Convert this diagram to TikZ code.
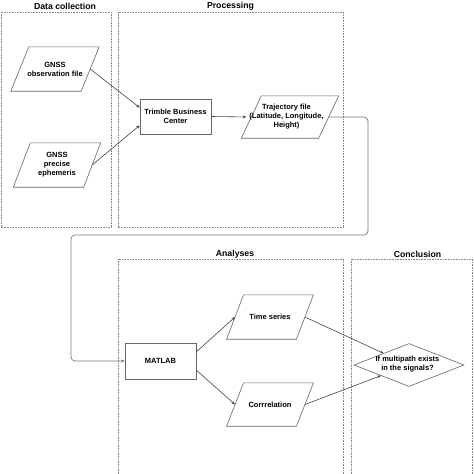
\documentclass[tikz,border=0pt]{standalone}
\usepackage{fontspec}
\setmainfont{Liberation Sans}
\usetikzlibrary{shapes.geometric,arrows.meta,calc}
\definecolor{linec}{HTML}{444444}
\definecolor{shapec}{HTML}{666666}
\definecolor{loopc}{HTML}{777777}
\definecolor{framec}{HTML}{888888}
\newcommand\drawpara[2]{%
  \draw[paraline] ($(#1.north west)+(#2,0)$) -- ($(#1.north east)+(#2,0)$)
    -- ($(#1.south east)+(-#2,0)$) -- ($(#1.south west)+(-#2,0)$) -- cycle;}
\begin{document}
\begin{tikzpicture}[x=1pt,y=-1pt,
  frame/.style={draw=framec, line width=0.5pt, dash pattern=on 0.8pt off 0.8pt},
  title/.style={font=\bfseries\fontsize{8.7}{10}\selectfont, inner sep=0},
  txt/.style={font=\bfseries\fontsize{7.5}{9}\selectfont, align=center, inner sep=0},
  para/.style={rectangle, inner sep=0, minimum width=70pt, minimum height=44pt, txt},
  paraline/.style={draw=shapec, line width=0.6pt, line join=miter},
  box/.style={draw=shapec, line width=0.6pt, minimum width=71pt, minimum height=35pt,
    inner sep=0, txt},
  dec/.style={diamond, draw=shapec, line width=0.6pt, inner sep=0,
    minimum width=110pt, minimum height=43pt},
  arr/.style={draw=linec, line width=0.6pt, -{Stealth[length=3.5pt,width=3pt]}},
  loop/.style={draw=loopc, line width=0.7pt, rounded corners=4pt, -{Stealth[length=3.5pt,width=3pt]}},
]
\clip (0,0) rectangle (474,474);
\fill[white] (0,0) rectangle (474,474);

% frames
\draw[frame] (1,12) rectangle (111,227);
\draw[frame] (118,12) rectangle (343,227);
\draw[frame] (118,259) rectangle (343,490);
\draw[frame] (351,259) rectangle (472,490);

% titles
\node[title] (t1) at (65,6) {Data collection};
\node[title] (t2) at (230.5,6) {Processing};
\node[title] (t3) at (235,254) {Analyses};
\node[title] (t4) at (417.5,254) {Conclusion};

% data collection
\node[para] (obs) at (55,69) {GNSS\\observation file};
\drawpara{obs}{9}
\node[para] (eph) at (57,165) {GNSS\\precise\\ephemeris};
\drawpara{eph}{8.5}

% processing
\node[box] (tbc) at (175.5,116.5) {Trimble Business\\Center};
\node[para, minimum width=77pt, minimum height=42pt] (traj) at (290,117) {};
\drawpara{traj}{10}
\node[txt] (trajt) at (286.5,117) {Trajectory file\\(Latitude, Longitude,\\Height)};

% analyses
\node[box, minimum height=36pt] (matlab) at (160.5,361) {MATLAB};
\node[para, minimum width=69.5pt] (ts) at (270,317) {Time series};
\drawpara{ts}{8.5}
\node[para, minimum width=69.5pt, minimum height=43pt] (corr) at (270,404.5) {Corrrelation};
\drawpara{corr}{8.5}

% conclusion
\node[dec] (dia) at (409,365) {};
\node[txt] (diat) at (407.5,364) {If multipath exists\\in the signals?};

% connectors
\draw[arr] (obs.east) -- ($(tbc.west)!0.5!(tbc.north west)$);
\draw[arr] (eph.east) -- ($(tbc.west)!0.5!(tbc.south west)$);
\draw[arr, shorten >=5pt] (tbc.east) -- (traj.west);

\coordinate (c1) at (368,117);
\coordinate (c2) at (368,235);
\coordinate (c3) at (71,235);
\coordinate (c4) at (71,361);
\draw[loop] (traj.east) -- (c1) -- (c2) -- (c3) -- (c4) -- (matlab.west);

\draw[arr] ($(matlab.east)!0.5!(matlab.north east)$) -- (ts.west);
\draw[arr] ($(matlab.east)!0.5!(matlab.south east)$) -- (corr.west);
\draw[arr] (ts.east) -- (dia);
\draw[arr] (corr.east) -- (dia);
\end{tikzpicture}
\end{document}
